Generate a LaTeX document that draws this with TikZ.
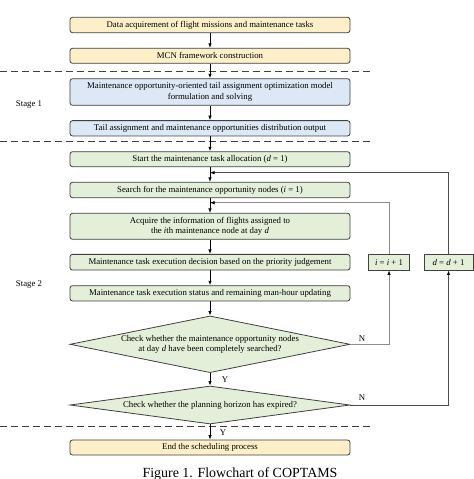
\documentclass[tikz,border=0pt]{standalone}
\usepackage{fontspec}
\setmainfont{Liberation Serif}
\usetikzlibrary{shapes.geometric,arrows.meta}
\definecolor{ylw}{HTML}{FDF0C8}
\definecolor{blu}{HTML}{DCE8F5}
\definecolor{grn}{HTML}{E3EFD9}
\definecolor{edge}{HTML}{404040}
\tikzset{
  box/.style={draw=edge, line width=0.8bp, rounded corners=2.5bp, minimum width=280bp,
    inner sep=0pt, align=center, font=\fontsize{8.8}{10.5}\selectfont},
  ybox/.style={box, fill=ylw},
  bbox/.style={box, fill=blu},
  gbox/.style={box, fill=grn},
  sbox/.style={draw=edge, line width=0.8bp, fill=grn, inner sep=0pt, minimum height=15.7bp,
    font=\fontsize{8.8}{10.5}\selectfont},
  dia/.style={diamond, draw=edge, line width=0.8bp, fill=grn, inner sep=0pt, minimum width=280bp},
  txt/.style={font=\fontsize{8.8}{10.5}\selectfont, align=center, inner sep=0pt},
  arr/.style={-{Latex[length=4.5bp,width=3.5bp]}, line width=0.8bp, draw=black},
  loopi/.style={-{Latex[length=4.5bp,width=3.5bp,color=black]}, line width=0.7bp, draw=black!45},
  loopd/.style={-{Latex[length=4.5bp,width=3.5bp,color=black]}, line width=0.8bp, draw=black!70},
  sep/.style={dash pattern=on 7bp off 4bp, line width=0.8bp, draw=black!75},
}
\begin{document}
\begin{tikzpicture}[x=1bp,y=-1bp]
\useasboundingbox (0,0) rectangle (474,479);
% separators
\coordinate (s1a) at (0,71); \coordinate (s1b) at (373,71);
\coordinate (s2a) at (0,141.7); \coordinate (s2b) at (373,141.7);
\coordinate (s3a) at (0,426); \coordinate (s3b) at (373,426);
\draw[sep] (s1a) -- (s1b);
\draw[sep] (s2a) -- (s2b);
\draw[sep] (s3a) -- (s3b);
% boxes
\node[ybox, minimum height=15.4bp] (b1) at (210,25) {Data acquirement of flight missions and maintenance tasks};
\node[ybox, minimum height=15bp] (b2) at (210,55.8) {MCN framework construction};
\node[bbox, minimum height=26.6bp] (b3) at (210,92) {Maintenance opportunity-oriented tail assignment optimization model\\formulation and solving};
\node[bbox, minimum height=15.3bp] (b4) at (210,128.3) {Tail assignment and maintenance opportunities distribution output};
\node[gbox, minimum height=15bp] (b5) at (210,159.2) {Start the maintenance task allocation (\textit{d} = 1)};
\node[gbox, minimum height=15.4bp] (b6) at (210,190) {Search for the maintenance opportunity nodes (\textit{i} = 1)};
\node[gbox, minimum height=26bp] (b7) at (210,226.3) {Acquire the information of flights assigned to\\the \textit{i}th maintenance node at day \textit{d}};
\node[gbox, minimum height=15.7bp] (b8) at (210,262.2) {Maintenance task execution decision based on the priority judgement};
\node[gbox, minimum height=15.3bp] (b9) at (210,293.3) {Maintenance task execution status and remaining man-hour updating};
\node[dia, minimum height=56.7bp] (q1) at (210,344.3) {};
\node[txt] (q1t) at (q1.center) {Check whether the maintenance opportunity nodes\\at day \textit{d} have been completely searched?};
\node[dia, minimum height=38bp] (q2) at (210,405) {};
\node[txt] (q2t) at (q2.center) {Check whether the planning horizon has expired?};
\node[ybox, minimum height=15bp] (b10) at (210,447.5) {End the scheduling process};
\node[sbox, minimum width=41bp] (bi) at (389,262.2) {\textit{i} = \textit{i} + 1};
\node[sbox, minimum width=49bp] (bd) at (448.5,262.2) {\textit{d} = \textit{d} + 1};
% stage labels
\node[txt] (st1) at (29,105) {Stage 1};
\node[txt] (st2) at (29,285) {Stage 2};
% main arrows
\draw[arr] (b1) -- (b2);
\draw[arr] (b2) -- (b3);
\draw[arr] (b3) -- (b4);
\draw[arr] (b4) -- (b5);
\draw[arr] (b5) -- (b6);
\draw[arr] (b6) -- (b7);
\draw[arr] (b7) -- (b8);
\draw[arr] (b8) -- (b9);
\draw[arr] (b9) -- (q1);
\draw[arr] (q1) -- (q2);
\draw[arr] (q2) -- (b10);
% loops
\coordinate (ji) at (210,202.7);
\coordinate (jd) at (210,172.7);
\draw[loopi] (q1.east) -| (bi.south);
\draw[loopi] (bi.north) |- (ji);
\draw[loopd] (q2.east) -| (bd.south);
\draw[loopd] (bd.north) |- (jd);
% Y/N labels
\node[txt] (n1) at (362,339) {N};
\node[txt] (n2) at (362,398) {N};
\node[txt] (y1) at (225,380) {Y};
\node[txt] (y2) at (223,432.7) {Y};
% caption
\node[anchor=base, font=\fontsize{14}{16}\selectfont, inner sep=0pt] (cap) at (240,477) {Figure 1. Flowchart of COPTAMS};
\end{tikzpicture}
\end{document}
